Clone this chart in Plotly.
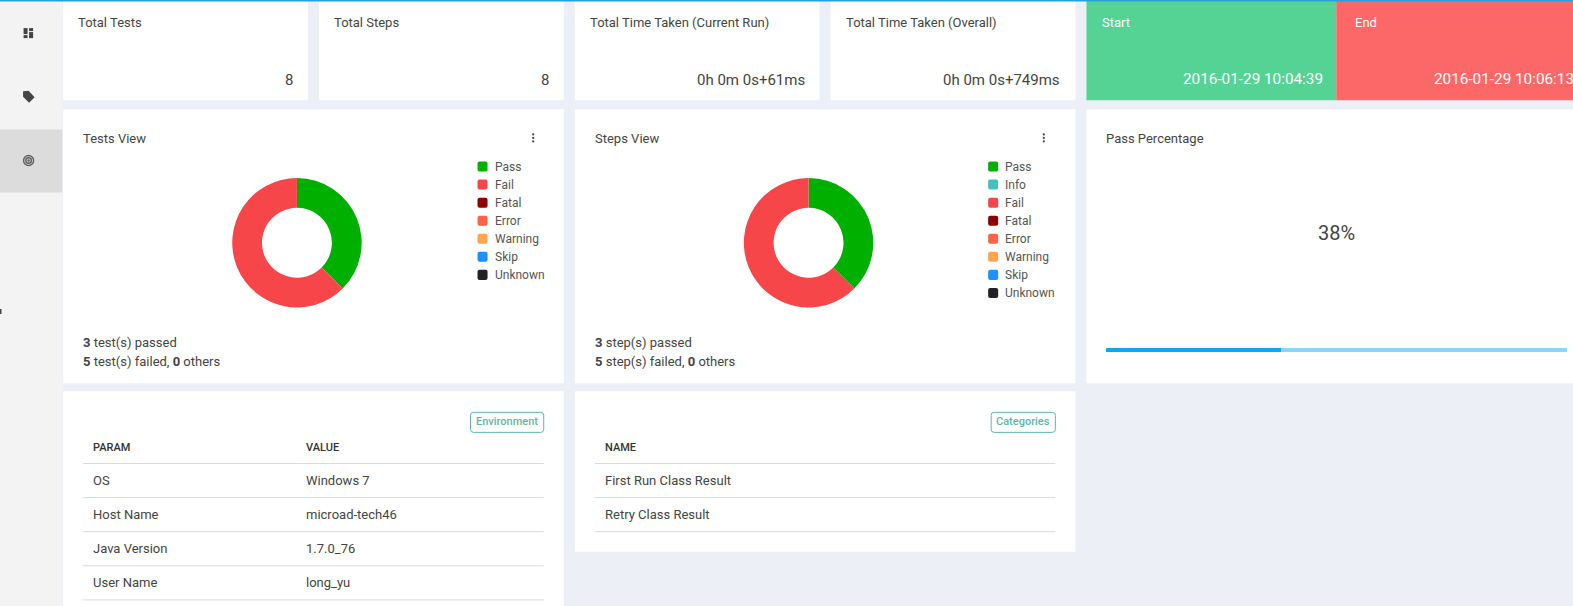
"""Test report dashboard drawn on one Plotly figure, laid out in page pixels."""

import plotly.graph_objects as go

W, H = 1573, 606
# layout below was measured off a picture shown slightly smaller than the page
SCALE = 1573 / 1568

# data
test_labels = ["Pass", "Fail", "Fatal", "Error", "Warning", "Skip", "Unknown"]
test_values = [3, 5, 0, 0, 0, 0, 0]
test_colors = ["#00b000", "#f7464a", "#8b0000", "#ff6347", "#ffa54f", "#1e90ff", "#222222"]

step_labels = ["Pass", "Info", "Fail", "Fatal", "Error", "Warning", "Skip", "Unknown"]
step_values = [3, 0, 5, 0, 0, 0, 0, 0]
step_colors = ["#00b000", "#46bfbd", "#f7464a", "#8b0000", "#ff6347", "#ffa54f", "#1e90ff", "#222222"]

pass_percentage = [38]
full_scale = [100]

env_columns = ["PARAM", "VALUE"]
env_params = ["OS", "Host Name", "Java Version", "User Name"]
env_values = ["Windows 7", "microad-tech46", "1.7.0_76", "long_yu"]
category_names = ["First Run Class Result", "Retry Class Result"]

stat_titles = ["Total Tests", "Total Steps", "Total Time Taken (Current Run)", "Total Time Taken (Overall)"]
stat_values = ["8", "8", "0h 0m 0s+61ms", "0h 0m 0s+749ms"]

FONT = "Roboto"
BG = "#eceff6"
INK = "#444444"


def px(x):
    return x * SCALE / W


def py(y):
    return 1 - y * SCALE / H


shapes = []
annotations = []


def rect(x0, y0, x1, y1, fill, line=None, layer="below"):
    shapes.append(dict(
        type="rect", xref="paper", yref="paper", layer=layer,
        x0=px(x0), x1=px(x1), y0=py(y0), y1=py(y1),
        fillcolor=fill, line=dict(width=1 if line else 0, color=line or fill),
    ))


def hline(x0, x1, y, color="#d9dcdc"):
    shapes.append(dict(
        type="line", xref="paper", yref="paper", layer="below",
        x0=px(x0), x1=px(x1), y0=py(y), y1=py(y),
        line=dict(width=1, color=color),
    ))


def circle(cx, cy, r, fill, line=None, width=1):
    shapes.append(dict(
        type="circle", xref="paper", yref="paper", layer="below",
        x0=px(cx - r), x1=px(cx + r), y0=py(cy + r), y1=py(cy - r),
        fillcolor=fill, line=dict(width=width if line else 0, color=line or fill),
    ))


def rounded(x0, y0, x1, y1, r, fill, line=None):
    # rounded box as an svg path, in paper units
    pts = (
        f"M {px(x0 + r)} {py(y0)} L {px(x1 - r)} {py(y0)} Q {px(x1)} {py(y0)} {px(x1)} {py(y0 + r)} "
        f"L {px(x1)} {py(y1 - r)} Q {px(x1)} {py(y1)} {px(x1 - r)} {py(y1)} "
        f"L {px(x0 + r)} {py(y1)} Q {px(x0)} {py(y1)} {px(x0)} {py(y1 - r)} "
        f"L {px(x0)} {py(y0 + r)} Q {px(x0)} {py(y0)} {px(x0 + r)} {py(y0)} Z"
    )
    shapes.append(dict(
        type="path", xref="paper", yref="paper", layer="below", path=pts,
        fillcolor=fill, line=dict(width=1 if line else 0, color=line or fill),
    ))


def label(x, y, text, size=13, color=INK, anchor="left", weight=None):
    annotations.append(dict(
        xref="paper", yref="paper", x=px(x), y=py(y), text=text, showarrow=False,
        xanchor=anchor, yanchor="middle", borderpad=0, borderwidth=0,
        font=dict(family=FONT, size=size, color=color, weight=weight),
    ))


def kebab(x):
    for y in (134, 137.5, 141):
        circle(x, y, 1.1, "#444444")


def legend_block(labels, colors, x):
    for i, (name, color) in enumerate(zip(labels, colors)):
        y = 166 + i * 18
        rounded(x, y - 5, x + 10, y + 5, 2, color)
        label(x + 17, y, name, size=12, color="#555555")


# sidebar
rect(0, 0, 62, H, "#f3f3f3")
rect(0, 129, 62, 192, "#dcdcdc")
rect(0, 308, 1.5, 313, "#444444")
rect(23.5, 28, 27.5, 34, "#444444")
rect(29, 28, 33, 31, "#444444")
rect(23.5, 35, 27.5, 38, "#444444")
rect(29, 32, 33, 38, "#444444")
shapes.append(dict(
    type="path", xref="paper", yref="paper", layer="below",
    path=(
        f"M {px(23)} {py(91)} L {px(28.5)} {py(90.5)} L {px(34.5)} {py(97)} "
        f"L {px(29)} {py(102.5)} L {px(23)} {py(96.5)} Z"
    ),
    fillcolor="#444444", line=dict(width=0),
))
circle(28.5, 160, 5, "rgba(0,0,0,0)", line="#5f5f5f", width=1.4)
circle(28.5, 160, 2.8, "rgba(0,0,0,0)", line="#5f5f5f", width=1.4)
circle(28.5, 160, 1.2, "#5f5f5f")

# stat cards along the top
stat_boxes = [(63, 307), (318, 562), (573, 817), (828, 1072)]
for (x0, x1), title, value in zip(stat_boxes, stat_titles, stat_values):
    rect(x0, 1, x1, 100, "#ffffff")
    label(x0 + 15, 22, title, size=13)
    label(x1 - 15, 80, value, size=15, anchor="right")

rect(1083, 1, 1332, 100, "#55d394")
rect(1332, 1, W, 100, "#fc6868")
label(1098, 22, "Start", size=13, color="#ffffff")
label(1351, 22, "End", size=13, color="#ffffff")
label(1319, 79, "2016-01-29 10:04:39", size=15.3, color="#ffffff", anchor="right")
label(1569, 79, "2016-01-29 10:06:13", size=15.3, color="#ffffff", anchor="right")
rect(0, 0, W, 1.5, "#27a2d8")

# chart cards
rect(63, 109, 562, 382, "#ffffff")
rect(573, 109, 1072, 382, "#ffffff")
rect(1083, 109, W, 382, "#ffffff")

label(83, 138, "Tests View", size=13)
label(593, 138, "Steps View", size=13)
label(1102, 138, "Pass Percentage", size=13)
kebab(531.5)
kebab(1040.5)
legend_block(test_labels, test_colors, 476)
legend_block(step_labels, step_colors, 985)

label(83, 341, f"<b>{test_values[0]}</b> test(s) passed", size=13)
label(83, 360, f"<b>{test_values[1]}</b> test(s) failed, <b>0</b> others", size=13)
label(593, 341, f"<b>{step_values[0]}</b> step(s) passed", size=13)
label(593, 360, f"<b>{step_values[2]}</b> step(s) failed, <b>0</b> others", size=13)
label(1332, 232, f"{pass_percentage[0]}%", size=20, anchor="center")

# environment table
rect(63, 390, 562, H, "#ffffff")
rounded(469, 411, 542, 431, 3, "#ffffff", line="#5fb5ae")
label(505.5, 420.5, "Environment", size=11, color="#5fb5ae", anchor="center", weight=500)
label(93, 446, env_columns[0], size=11, color="#333333", weight=500)
label(305, 446, env_columns[1], size=11, color="#333333", weight=500)
hline(83, 542, 462)
for i, (param, value) in enumerate(zip(env_params, env_values)):
    y = 479 + i * 34
    label(93, y, param, size=13)
    label(305, y, value, size=13)
    hline(83, 542, y + 17)

# categories table
rect(573, 390, 1072, 550, "#ffffff")
rounded(988, 411, 1052, 431, 3, "#ffffff", line="#5fb5ae")
label(1020, 420.5, "Categories", size=11, color="#5fb5ae", anchor="center", weight=500)
label(603, 446, "NAME", size=11, color="#333333", weight=500)
hline(593, 1052, 462)
for i, name in enumerate(category_names):
    y = 479 + i * 34
    label(603, y, name, size=13)
    hline(593, 1052, y + 17)

fig = go.Figure()

for values, labels, colors, cx in [
    (test_values, test_labels, test_colors, 296),
    (step_values, step_labels, step_colors, 806),
]:
    fig.add_trace(go.Pie(
        values=values, labels=labels, sort=False, direction="clockwise", rotation=0,
        hole=0.54, textinfo="none", showlegend=False, hoverinfo="label+value",
        marker=dict(colors=colors, line=dict(width=0)),
        domain=dict(x=[px(cx - 64.5), px(cx + 64.5)], y=[py(306.5), py(177.5)]),
    ))

# pass percentage progress bar
fig.add_trace(go.Bar(
    x=full_scale, y=["pass"], orientation="h", marker=dict(color="#8bd5f8", line=dict(width=0)),
    showlegend=False, hoverinfo="skip",
))
fig.add_trace(go.Bar(
    x=pass_percentage, y=["pass"], orientation="h", marker=dict(color="#0fa8ef", line=dict(width=0)),
    showlegend=False, hoverinfo="skip",
))

fig.update_layout(
    width=W, height=H, autosize=False,
    margin=dict(l=0, r=0, t=0, b=0),
    paper_bgcolor=BG, plot_bgcolor="rgba(0,0,0,0)",
    barmode="overlay", bargap=0,
    font=dict(family=FONT, color=INK),
    shapes=shapes, annotations=annotations,
    xaxis=dict(domain=[px(1102), px(1562)], range=[0, 100], visible=False, fixedrange=True),
    yaxis=dict(domain=[py(351), py(347)], visible=False, fixedrange=True),
)

fig.write_html(
    "out.html",
    config=dict(displayModeBar=False),
    post_script="document.body.style.margin='0';document.body.style.overflow='hidden';",
)
